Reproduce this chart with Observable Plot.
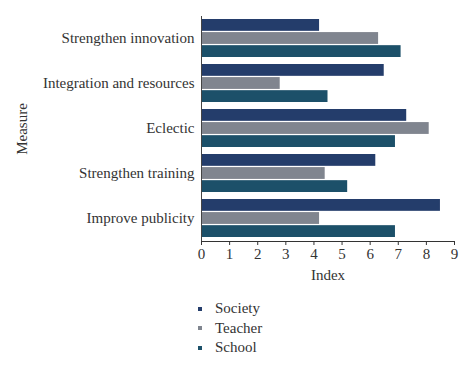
<!DOCTYPE html>
<html>
<head>
<meta charset="utf-8">
<script src="https://cdn.jsdelivr.net/npm/d3@7"></script>
<script src="https://cdn.jsdelivr.net/npm/@observablehq/plot@0.6"></script>
<style>
  body { margin: 0; background: #fff; font-family: "Liberation Serif", serif; }
  #legend { margin: 7px 0 0 198px; font-size: 15px; color: #333; }
  #legend .item { display: flex; align-items: center; height: 19.5px; }
  #legend .sw { width: 4px; height: 4px; margin-right: 13px; }
</style>
</head>
<body>
<div id="chart"></div>
<div id="legend"></div>
<script>
const measures = ["Strengthen innovation", "Integration and resources", "Eclectic", "Strengthen training", "Improve publicity"];
const series = ["Society", "Teacher", "School"];
const society = [4.2, 6.5, 7.3, 6.2, 8.5];
const teacher = [6.3, 2.8, 8.1, 4.4, 4.2];
const school = [7.1, 4.5, 6.9, 5.2, 6.9];
const xTicks = [0, 1, 2, 3, 4, 5, 6, 7, 8, 9];
const colors = ["#243d6b", "#80858f", "#1c5069"];

const values = [society, teacher, school];
const data = series.map((s, k) => measures.map((m, i) => ({measure: m, series: s, value: values[k][i]})));

const bandH = 38.25, barH = (bandH - 2) / 3;
const insets = [
  {insetTop: 0, insetBottom: bandH - barH},
  {insetTop: barH + 1, insetBottom: barH + 1},
  {insetTop: bandH - barH, insetBottom: 0}
];

const chart = Plot.plot({
  width: 474,
  height: 292,
  marginTop: 16,
  marginBottom: 51,
  marginLeft: 201,
  marginRight: 20,
  style: {fontFamily: "Liberation Serif, serif", fontSize: "15px", color: "#333", background: "#fff"},
  x: {domain: [0, 9], ticks: xTicks, tickSize: 4, tickPadding: 3, label: "Index", labelArrow: false, labelAnchor: "center", labelOffset: 38, line: true},
  y: {domain: measures, paddingInner: 0.15, paddingOuter: 0.075, tickSize: 0, tickPadding: 7, label: "Measure", labelArrow: false, labelAnchor: "center", labelOffset: 185},
  marks: [
    ...data.map((d, k) => Plot.barX(d, {x: "value", y: "measure", fill: colors[k], ...insets[k]})),
    Plot.ruleX([0], {stroke: "#444"})
  ]
});
document.getElementById("chart").appendChild(chart);

const legend = document.getElementById("legend");
series.forEach((s, k) => {
  const item = document.createElement("div");
  item.className = "item";
  const sw = document.createElement("span");
  sw.className = "sw";
  sw.style.background = colors[k];
  const t = document.createElement("span");
  t.textContent = s;
  item.appendChild(sw);
  item.appendChild(t);
  legend.appendChild(item);
});
</script>
</body>
</html>
